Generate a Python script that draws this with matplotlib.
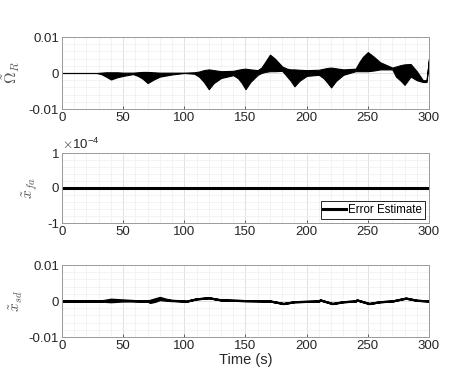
import matplotlib
matplotlib.use("Agg")
import matplotlib.pyplot as plt
import numpy as np
from matplotlib.ticker import MultipleLocator, FixedLocator

plt.rcParams['font.family'] = ['Liberation Sans', 'DejaVu Sans']
plt.rcParams['mathtext.fontset'] = 'cm'

# ---- Data ----
# Top panel: envelope of fast oscillation of Omega_R error
t_omega = [0, 28, 32, 36, 40, 45, 50, 58, 62, 66, 70, 75, 80, 90, 100, 108, 112, 116, 120, 124, 130,
           140, 144, 147, 150, 154, 160, 163, 166, 170, 174, 180, 184, 187, 190, 194, 200, 210, 214,
           217, 220, 224, 230, 240, 243, 246, 250, 255, 260, 270, 273, 277, 280, 285, 290, 295, 298, 300]
omega_upper = [0, 0, 0.0001, 0.0002, 0.0002, 0.0002, 0.0001, 0.0001, 0.0002, 0.0003, 0.0003, 0.0002, 0.0001,
               0.0001, 0.0001, 0.0002, 0.0004, 0.0008, 0.0010, 0.0008, 0.0005,
               0.0006, 0.0009, 0.0011, 0.0012, 0.0010, 0.0008, 0.0015, 0.0030, 0.0051, 0.0040, 0.0018,
               0.0012, 0.0010, 0.0010, 0.0009, 0.0008, 0.0009, 0.0012, 0.0014, 0.0015, 0.0013, 0.0010,
               0.0012, 0.0030, 0.0045, 0.0058, 0.0045, 0.0030, 0.0015, 0.0018, 0.0022, 0.0024, 0.0025,
               0.0005, -0.0020, -0.0020, 0.0040]
omega_lower = [0, 0, -0.0003, -0.0010, -0.0018, -0.0012, -0.0008, -0.0003, -0.0008, -0.0016, -0.0028,
               -0.0018, -0.0010, -0.0004, 0.0000, -0.0002, -0.0010, -0.0025, -0.0045, -0.0028, -0.0014,
               -0.0006, -0.0015, -0.0028, -0.0045, -0.0025, -0.0005, 0.0000, 0.0003, 0.0005, 0.0005, 0.0006,
               -0.0010, -0.0022, -0.0037, -0.0022, -0.0008, -0.0005, -0.0015, -0.0027, -0.0040, -0.0022,
               -0.0005, 0.0005, 0.0005, 0.0005, 0.0005, 0.0007, 0.0010, 0.0010, -0.0010, -0.0022, -0.0033,
               -0.0010, -0.0020, -0.0025, -0.0025, 0.0040]

# Middle panel: x_fa error (flat at zero)
t_fa = [0, 300]
x_fa = [0, 0]

# Bottom panel: x_sd error (upper / lower edges of the thin band)
t_sd = [0, 30, 35, 40, 45, 50, 60, 70, 72, 76, 80, 85, 90, 100, 101, 110, 120, 130, 150, 170,
        181, 190, 210, 211, 221, 230, 240, 241, 251, 260, 270, 281, 290, 300]
x_sd_upper = [0, 0, 0.0002, 0.0005, 0.0004, 0.0003, 0.0001, 0, 0.0002, 0.0006, 0.0010, 0.0005, 0.0002,
              0, -0.0001, 0.0006, 0.0009, 0.0003, 0.0001, 0, -0.0007, -0.0002, 0, 0.0003, -0.0007,
              -0.0002, 0, 0.0003, -0.0007, -0.0002, 0, 0.0008, 0.0002, 0]
x_sd_lower = [0, 0, -0.0001, -0.0002, -0.0001, 0.0000, 0.0000, 0, -0.0004, -0.0001, 0.0004, 0.0002, 0.0001,
              0, -0.0001, 0.0006, 0.0009, 0.0003, 0.0001, 0, -0.0007, -0.0002, 0, 0.0003, -0.0007,
              -0.0002, 0, 0.0003, -0.0007, -0.0002, 0, 0.0008, 0.0002, 0]

xticks = [0, 50, 100, 150, 200, 250, 300]

fig = plt.figure(figsize=(4.74, 3.79), dpi=100)
W, H = 474, 379
def ax_at(x0, y0, x1, y1):
    return fig.add_axes([x0 / W, 1 - y1 / H, (x1 - x0) / W, (y1 - y0) / H])

ax1 = ax_at(62, 37, 429, 109)
ax2 = ax_at(62, 153, 429, 223)
ax3 = ax_at(62, 265, 429, 337)

frame_c = '#262626'
label_c = '#555555'
for ax in (ax1, ax2, ax3):
    ax.set_xlim(0, 300)
    ax.xaxis.set_major_locator(FixedLocator(xticks))
    ax.xaxis.set_minor_locator(MultipleLocator(10))
    ax.grid(True, which='major', color='#dcdcdc', lw=0.6)
    ax.grid(True, which='minor', color='#eeeeee', lw=0.5)
    ax.set_axisbelow(True)
    ax.tick_params(which='both', direction='in', length=2.5, width=0.5, color=frame_c,
                   labelsize=9.5, labelcolor='#262626', top=False, right=False, pad=2)
    ax.tick_params(which='minor', length=0)
    for s in ax.spines.values():
        s.set_color('#9a9a9a')
        s.set_linewidth(0.7)

# Top
ax1.fill_between(t_omega, omega_lower, omega_upper, color='black', lw=0.8, edgecolor='black')
ax1.set_ylim(-0.01, 0.01)
ax1.yaxis.set_major_locator(FixedLocator([-0.01, 0, 0.01]))
ax1.yaxis.set_minor_locator(MultipleLocator(0.002))
ax1.set_yticklabels(['-0.01', '0', '0.01'])
ax1.set_ylabel(r'$\tilde{\Omega}_R$', color=label_c, fontsize=11.5, labelpad=5)

# Middle
ax2.plot(t_fa, x_fa, color='black', lw=2.2, label='Error Estimate')
ax2.set_ylim(-1e-4, 1e-4)
ax2.yaxis.set_major_locator(FixedLocator([-1e-4, 0, 1e-4]))
ax2.yaxis.set_minor_locator(MultipleLocator(0.2e-4))
ax2.set_yticklabels(['-1', '0', '1'])
ax2.text(0.0, 1.02, r'$\times\mathregular{10^{-4}}$', transform=ax2.transAxes, fontsize=9.5,
         color='#262626', ha='left', va='bottom')
ax2.set_ylabel(r'$\tilde{x}_{fa}$', color=label_c, fontsize=11, labelpad=5)
leg = ax2.legend(loc='lower right', fontsize=8.3, frameon=True, fancybox=False,
                 borderpad=0.25, handlelength=2.0, handletextpad=0.15, borderaxespad=0.35)
leg.get_frame().set_edgecolor('#262626')
leg.get_frame().set_linewidth(0.7)
leg.get_frame().set_alpha(1)

# Bottom
ax3.fill_between(t_sd, x_sd_lower, x_sd_upper, color='black', lw=1.6, edgecolor='black')
ax3.set_ylim(-0.01, 0.01)
ax3.yaxis.set_major_locator(FixedLocator([-0.01, 0, 0.01]))
ax3.yaxis.set_minor_locator(MultipleLocator(0.002))
ax3.set_yticklabels(['-0.01', '0', '0.01'])
ax3.set_ylabel(r'$\tilde{x}_{sd}$', color=label_c, fontsize=11, labelpad=3)
ax3.set_xlabel('Time (s)', fontsize=10.5, color='#262626', labelpad=1)

fig.savefig('out.png', dpi=100, facecolor='white')
